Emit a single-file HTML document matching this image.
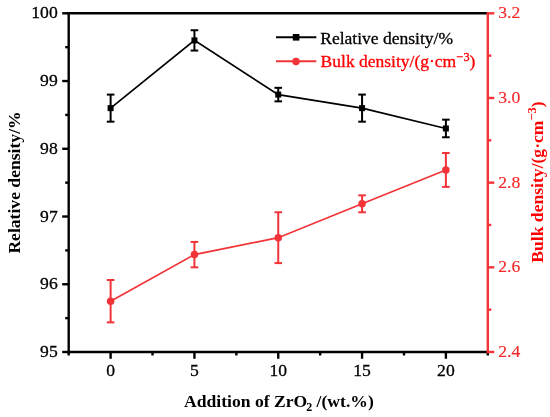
<!DOCTYPE html>
<html><head><meta charset="utf-8"><style>
html,body{margin:0;padding:0;background:#fff;}
svg{display:block;}
.t{font-family:'Liberation Serif', 'Times New Roman', serif;font-size:17.6px;fill:#000;stroke:#000;stroke-width:0.3px;}
.b{font-family:'Liberation Serif', 'Times New Roman', serif;font-size:17.6px;font-weight:bold;fill:#000;stroke:#000;stroke-width:0;}
.r{fill:#ff0000;stroke:#ff0000;}
.rl{fill:#f42828;stroke:#f42828;stroke-width:0.15px;}
</style></head><body>
<svg width="550" height="417" viewBox="0 0 550 417">
<rect width="550" height="417" fill="#fff"/>
<line x1="67.5" y1="13.3" x2="487.8" y2="13.3" stroke="#000" stroke-width="2.4"/>
<line x1="68.7" y1="12.100000000000001" x2="68.7" y2="353.2" stroke="#000" stroke-width="2.4"/>
<line x1="67.5" y1="352.0" x2="487.8" y2="352.0" stroke="#000" stroke-width="2.4"/>
<line x1="62.2" y1="352.0" x2="68.7" y2="352.0" stroke="#000" stroke-width="2.4"/>
<text x="57.7" y="357.0" text-anchor="end" class="t">95</text>
<line x1="62.2" y1="284.26" x2="68.7" y2="284.26" stroke="#000" stroke-width="2.4"/>
<text x="57.7" y="289.26" text-anchor="end" class="t">96</text>
<line x1="62.2" y1="216.52" x2="68.7" y2="216.52" stroke="#000" stroke-width="2.4"/>
<text x="57.7" y="221.52" text-anchor="end" class="t">97</text>
<line x1="62.2" y1="148.78" x2="68.7" y2="148.78" stroke="#000" stroke-width="2.4"/>
<text x="57.7" y="153.78" text-anchor="end" class="t">98</text>
<line x1="62.2" y1="81.04000000000002" x2="68.7" y2="81.04000000000002" stroke="#000" stroke-width="2.4"/>
<text x="57.7" y="86.04000000000002" text-anchor="end" class="t">99</text>
<line x1="62.2" y1="13.300000000000011" x2="68.7" y2="13.300000000000011" stroke="#000" stroke-width="2.4"/>
<text x="57.7" y="18.30000000000001" text-anchor="end" class="t">100</text>
<line x1="65.2" y1="318.13" x2="68.7" y2="318.13" stroke="#000" stroke-width="2.4"/>
<line x1="65.2" y1="250.39" x2="68.7" y2="250.39" stroke="#000" stroke-width="2.4"/>
<line x1="65.2" y1="182.65" x2="68.7" y2="182.65" stroke="#000" stroke-width="2.4"/>
<line x1="65.2" y1="114.91000000000003" x2="68.7" y2="114.91000000000003" stroke="#000" stroke-width="2.4"/>
<line x1="65.2" y1="47.170000000000016" x2="68.7" y2="47.170000000000016" stroke="#000" stroke-width="2.4"/>
<line x1="110.61000000000001" y1="352.0" x2="110.61000000000001" y2="358.8" stroke="#000" stroke-width="2.4"/>
<text x="110.61000000000001" y="376.0" text-anchor="middle" class="t">0</text>
<line x1="194.43" y1="352.0" x2="194.43" y2="358.8" stroke="#000" stroke-width="2.4"/>
<text x="194.43" y="376.0" text-anchor="middle" class="t">5</text>
<line x1="278.25" y1="352.0" x2="278.25" y2="358.8" stroke="#000" stroke-width="2.4"/>
<text x="278.25" y="376.0" text-anchor="middle" class="t">10</text>
<line x1="362.07" y1="352.0" x2="362.07" y2="358.8" stroke="#000" stroke-width="2.4"/>
<text x="362.07" y="376.0" text-anchor="middle" class="t">15</text>
<line x1="445.89000000000004" y1="352.0" x2="445.89000000000004" y2="358.8" stroke="#000" stroke-width="2.4"/>
<text x="445.89000000000004" y="376.0" text-anchor="middle" class="t">20</text>
<line x1="68.7" y1="352.0" x2="68.7" y2="355.5" stroke="#000" stroke-width="2.4"/>
<line x1="152.52" y1="352.0" x2="152.52" y2="355.5" stroke="#000" stroke-width="2.4"/>
<line x1="236.34000000000003" y1="352.0" x2="236.34000000000003" y2="355.5" stroke="#000" stroke-width="2.4"/>
<line x1="320.16" y1="352.0" x2="320.16" y2="355.5" stroke="#000" stroke-width="2.4"/>
<line x1="403.98" y1="352.0" x2="403.98" y2="355.5" stroke="#000" stroke-width="2.4"/>
<line x1="487.8" y1="352.0" x2="487.8" y2="355.5" stroke="#000" stroke-width="2.4"/>
<line x1="487.8" y1="12.100000000000001" x2="487.8" y2="353.2" stroke="#f23338" stroke-width="2.4"/>
<line x1="487.8" y1="352.0" x2="494.3" y2="352.0" stroke="#f23338" stroke-width="2.4"/>
<text x="498.3" y="356.9" class="t rl">2.4</text>
<line x1="487.8" y1="267.32499999999993" x2="494.3" y2="267.32499999999993" stroke="#f23338" stroke-width="2.4"/>
<text x="498.3" y="272.2249999999999" class="t rl">2.6</text>
<line x1="487.8" y1="182.65000000000003" x2="494.3" y2="182.65000000000003" stroke="#f23338" stroke-width="2.4"/>
<text x="498.3" y="187.55000000000004" class="t rl">2.8</text>
<line x1="487.8" y1="97.97499999999997" x2="494.3" y2="97.97499999999997" stroke="#f23338" stroke-width="2.4"/>
<text x="498.3" y="102.87499999999997" class="t rl">3.0</text>
<line x1="487.8" y1="13.299999999999955" x2="494.3" y2="13.299999999999955" stroke="#f23338" stroke-width="2.4"/>
<text x="498.3" y="18.199999999999953" class="t rl">3.2</text>
<line x1="487.8" y1="309.66249999999997" x2="491.3" y2="309.66249999999997" stroke="#f23338" stroke-width="2.4"/>
<line x1="487.8" y1="224.9874999999999" x2="491.3" y2="224.9874999999999" stroke="#f23338" stroke-width="2.4"/>
<line x1="487.8" y1="140.3125" x2="491.3" y2="140.3125" stroke="#f23338" stroke-width="2.4"/>
<line x1="487.8" y1="55.63749999999993" x2="491.3" y2="55.63749999999993" stroke="#f23338" stroke-width="2.4"/>
<polyline points="110.61,108.14 194.43,40.40 278.25,94.59 362.07,108.14 445.89,128.46" fill="none" stroke="#000" stroke-width="1.7"/>
<line x1="110.61000000000001" y1="94.58800000000019" x2="110.61000000000001" y2="121.6840000000006" stroke="#000" stroke-width="2"/>
<line x1="106.81000000000002" y1="94.58800000000019" x2="114.41000000000001" y2="94.58800000000019" stroke="#000" stroke-width="2"/>
<line x1="106.81000000000002" y1="121.6840000000006" x2="114.41000000000001" y2="121.6840000000006" stroke="#000" stroke-width="2"/>
<rect x="107.61000000000001" y="105.1360000000004" width="6" height="6" fill="#000"/>
<line x1="194.43" y1="30.235000000000014" x2="194.43" y2="50.55700000000081" stroke="#000" stroke-width="2"/>
<line x1="190.63" y1="30.235000000000014" x2="198.23000000000002" y2="30.235000000000014" stroke="#000" stroke-width="2"/>
<line x1="190.63" y1="50.55700000000081" x2="198.23000000000002" y2="50.55700000000081" stroke="#000" stroke-width="2"/>
<rect x="191.43" y="37.39600000000041" width="6" height="6" fill="#000"/>
<line x1="278.25" y1="87.81400000000059" x2="278.25" y2="101.36199999999982" stroke="#000" stroke-width="2"/>
<line x1="274.45" y1="87.81400000000059" x2="282.05" y2="87.81400000000059" stroke="#000" stroke-width="2"/>
<line x1="274.45" y1="101.36199999999982" x2="282.05" y2="101.36199999999982" stroke="#000" stroke-width="2"/>
<rect x="275.25" y="91.58800000000019" width="6" height="6" fill="#000"/>
<line x1="362.07" y1="94.58800000000019" x2="362.07" y2="121.6840000000006" stroke="#000" stroke-width="2"/>
<line x1="358.27" y1="94.58800000000019" x2="365.87" y2="94.58800000000019" stroke="#000" stroke-width="2"/>
<line x1="358.27" y1="121.6840000000006" x2="365.87" y2="121.6840000000006" stroke="#000" stroke-width="2"/>
<rect x="359.07" y="105.1360000000004" width="6" height="6" fill="#000"/>
<line x1="445.89000000000004" y1="119.65180000000052" x2="445.89000000000004" y2="137.2641999999999" stroke="#000" stroke-width="2"/>
<line x1="442.09000000000003" y1="119.65180000000052" x2="449.69000000000005" y2="119.65180000000052" stroke="#000" stroke-width="2"/>
<line x1="442.09000000000003" y1="137.2641999999999" x2="449.69000000000005" y2="137.2641999999999" stroke="#000" stroke-width="2"/>
<rect x="442.89000000000004" y="125.4580000000002" width="6" height="6" fill="#000"/>
<polyline points="110.61,301.19 194.43,254.62 278.25,237.69 362.07,203.82 445.89,169.95" fill="none" stroke="#f23338" stroke-width="1.7"/>
<line x1="110.61000000000001" y1="280.02625" x2="110.61000000000001" y2="322.36374999999987" stroke="#f23338" stroke-width="2"/>
<line x1="106.81000000000002" y1="280.02625" x2="114.41000000000001" y2="280.02625" stroke="#f23338" stroke-width="2"/>
<line x1="106.81000000000002" y1="322.36374999999987" x2="114.41000000000001" y2="322.36374999999987" stroke="#f23338" stroke-width="2"/>
<circle cx="110.61000000000001" cy="301.19499999999994" r="3.75" fill="#f23338"/>
<line x1="194.43" y1="241.9225000000001" x2="194.43" y2="267.32499999999993" stroke="#f23338" stroke-width="2"/>
<line x1="190.63" y1="241.9225000000001" x2="198.23000000000002" y2="241.9225000000001" stroke="#f23338" stroke-width="2"/>
<line x1="190.63" y1="267.32499999999993" x2="198.23000000000002" y2="267.32499999999993" stroke="#f23338" stroke-width="2"/>
<circle cx="194.43" cy="254.62375000000003" r="3.75" fill="#f23338"/>
<line x1="278.25" y1="212.28624999999997" x2="278.25" y2="263.09125" stroke="#f23338" stroke-width="2"/>
<line x1="274.45" y1="212.28624999999997" x2="282.05" y2="212.28624999999997" stroke="#f23338" stroke-width="2"/>
<line x1="274.45" y1="263.09125" x2="282.05" y2="263.09125" stroke="#f23338" stroke-width="2"/>
<circle cx="278.25" cy="237.68875" r="3.75" fill="#f23338"/>
<line x1="362.07" y1="195.35124999999996" x2="362.07" y2="212.28624999999997" stroke="#f23338" stroke-width="2"/>
<line x1="358.27" y1="195.35124999999996" x2="365.87" y2="195.35124999999996" stroke="#f23338" stroke-width="2"/>
<line x1="358.27" y1="212.28624999999997" x2="365.87" y2="212.28624999999997" stroke="#f23338" stroke-width="2"/>
<circle cx="362.07" cy="203.81874999999997" r="3.75" fill="#f23338"/>
<line x1="445.89000000000004" y1="153.01374999999993" x2="445.89000000000004" y2="186.88374999999996" stroke="#f23338" stroke-width="2"/>
<line x1="442.09000000000003" y1="153.01374999999993" x2="449.69000000000005" y2="153.01374999999993" stroke="#f23338" stroke-width="2"/>
<line x1="442.09000000000003" y1="186.88374999999996" x2="449.69000000000005" y2="186.88374999999996" stroke="#f23338" stroke-width="2"/>
<circle cx="445.89000000000004" cy="169.94874999999993" r="3.75" fill="#f23338"/>
<line x1="276" y1="37.3" x2="316.3" y2="37.3" stroke="#000" stroke-width="1.9"/>
<rect x="292.8" y="34" width="6.6" height="6.6" fill="#000"/>
<text x="320.3" y="43.5" class="t" style="font-size:17.5px">Relative density/%</text>
<line x1="276" y1="61.3" x2="316.3" y2="61.3" stroke="#f23338" stroke-width="1.9"/>
<circle cx="296" cy="61.4" r="3.75" fill="#f23338"/>
<text x="320.6" y="67" class="t r" style="font-size:17.5px">Bulk density/(g·cm<tspan dx="0.3" dy="-6.4" style="font-size:12.3px">−3</tspan><tspan dy="6.4">)</tspan></text>
<text transform="translate(20,182.5) rotate(-90)" text-anchor="middle" class="b">Relative density/%</text>
<text transform="translate(542.5,182) rotate(-90)" text-anchor="middle" class="b r">Bulk density/(g·cm<tspan dy="-6.6" style="font-size:12.5px">−3</tspan><tspan dy="6.6">)</tspan></text>
<text x="184" y="407.4" class="b">Addition of ZrO<tspan dx="-1" dy="4" font-size="12">2</tspan><tspan dy="-4"> /(wt.%)</tspan></text>
</svg>
</body></html>
